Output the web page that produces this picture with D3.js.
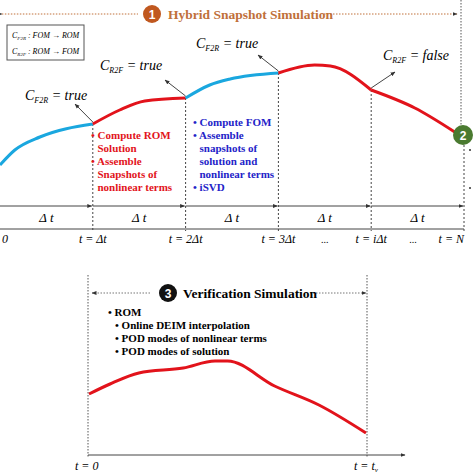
<!DOCTYPE html><html><head><meta charset="utf-8"><script src="https://cdn.jsdelivr.net/npm/d3@7"></script>
<style>body{margin:0;background:#fff}svg text{font-family:"Liberation Serif","DejaVu Serif","Times New Roman",serif}</style></head><body><svg id="c" width="474" height="474" font-family="Liberation Serif, DejaVu Serif, serif"></svg>
<script>
// hybrid simulation: time in Δt units, state value arbitrary
const hybridT=[0,0.16,0.43,1,1.29,1.56,2,2.26,2.48,3.0,3.39,3.56,4.0,4.47,4.9];
const hybridV=[65,80,93,106,120,129,132,145,151,157,165,164,140,122,98];
const segModel=["FOM","ROM","FOM","ROM","ROM"];
const tickLabels=["0","t = Δt","t = 2Δt","t = 3Δt","t = iΔt","t = N"];
const verT=[0,0.076,0.18,0.34,0.455,0.5,0.67,0.83,1];
const verV=[61,71,82,87,94,94,69,50,22];
const col={FOM:"#1aa7df",ROM:"#e2131b"};
const svg=d3.select("#c");
const x=d3.scaleLinear().domain([0,5]).range([0,464]);
const y=d3.scaleLinear().domain([0,100]).range([230,130]);
const defs=svg.append("defs");
defs.append("marker").attr("id","ah").attr("viewBox","0 0 10 10").attr("refX",9).attr("refY",5).attr("markerWidth",5).attr("markerHeight",5).attr("orient","auto").append("path").attr("d","M0,1L10,5L0,9Z").attr("fill","#333");
const line=d3.line().x(d=>x(d[0])).y(d=>y(d[1])).curve(d3.curveMonotoneX);
const pts=hybridT.map((t,i)=>[t,hybridV[i]]);
const at=i=>pts.find(p=>Math.abs(p[0]-i)<0.01);
// title
svg.append("line").attr("x1",x(0.02)).attr("x2",138).attr("y1",14).attr("y2",14).attr("stroke","#c0703a").attr("stroke-dasharray","1.5,1.5").attr("marker-start","url(#ah)");
svg.append("line").attr("x1",324).attr("x2",457).attr("y1",14).attr("y2",14).attr("stroke","#c0703a").attr("stroke-dasharray","1.5,1.5").attr("marker-end","url(#ah)");
svg.append("circle").attr("cx",152).attr("cy",14).attr("r",9).attr("fill","#c0581f");
svg.append("text").attr("x",152).attr("y",18.5).attr("text-anchor","middle").attr("fill","#fff").attr("font-size",12).attr("font-weight","bold").style("font-family","Liberation Sans").text("1");
svg.append("text").attr("x",168).attr("y",19).attr("fill","#c0703a").attr("font-size",13.5).attr("font-weight","bold").text("Hybrid Snapshot Simulation");
svg.append("line").attr("x1",461).attr("x2",461).attr("y1",0).attr("y2",128).attr("stroke","#555").attr("stroke-dasharray","1.5,1.5");
// legend
svg.append("rect").attr("x",7).attr("y",25).attr("width",77).attr("height",35).attr("fill","#fff").attr("stroke","#555");
[["F2R","FOM → ROM",38],["R2F","ROM → FOM",54]].forEach(d=>{const t=svg.append("text").attr("x",12).attr("y",d[2]).attr("font-size",8).attr("font-style","italic");t.append("tspan").text("C");t.append("tspan").attr("font-size",5).attr("dy",2).text(d[0]);t.append("tspan").attr("dy",-2).text(" : "+d[1]);});
// vertical dashed boundaries
d3.range(1,6).forEach(i=>{svg.append("line").attr("x1",x(i)).attr("x2",x(i)).attr("y1",i<5?y(at(i)[1]):145).attr("y2",231).attr("stroke","#444").attr("stroke-dasharray","2,2");});
// curve segments
d3.range(5).forEach(i=>{const seg=pts.filter(p=>p[0]>=i-0.001&&p[0]<=i+1.001);
svg.append("path").attr("d",line(seg)).attr("fill","none").attr("stroke",col[segModel[i]]).attr("stroke-width",3);});
// axes
d3.range(5).forEach(i=>svg.append("line").attr("x1",x(i)).attr("x2",x(i+1)-1).attr("y1",206).attr("y2",206).attr("stroke","#444").attr("marker-end","url(#ah)"));
svg.append("line").attr("x1",0).attr("x2",x(5)).attr("y1",229).attr("y2",229).attr("stroke","#444");
d3.range(5).forEach(i=>svg.append("text").attr("x",x(i+0.5)).attr("y",222).attr("text-anchor","middle").attr("font-size",13).attr("font-style","italic").text("Δ t"));
tickLabels.forEach((s,i)=>svg.append("text").attr("x",i==0?x(0)+2:x(i)).attr("y",243).attr("text-anchor",i==0?"start":(i==5?"end":"middle")).attr("font-size",12).attr("font-style","italic").text(s));
svg.append("text").attr("x",x(3.5)).attr("y",243).attr("text-anchor","middle").attr("font-size",10).text("...");
svg.append("text").attr("x",x(4.45)).attr("y",243).attr("text-anchor","middle").attr("font-size",10).text("...");
// annotations
const ann=[[1,"F2R","true",25,100,75,104],[2,"R2F","true",100,70,165,80],[3,"F2R","true",196,48,258,55],[4,"R2F","false",383,60,395,72]];
ann.forEach(a=>{const px=x(a[0]),py=y(at(a[0])[1]);
svg.append("line").attr("x1",px).attr("y1",py-2).attr("x2",a[5]).attr("y2",a[6]).attr("stroke","#444").attr("marker-end","url(#ah)");
const t=svg.append("text").attr("x",a[3]).attr("y",a[4]).attr("font-size",14).attr("font-style","italic");t.append("tspan").text("C");t.append("tspan").attr("font-size",8).attr("dy",3).text(a[1]);t.append("tspan").attr("dy",-3).text(" = "+a[2]);});
// green circle
svg.append("circle").attr("cx",463).attr("cy",135).attr("r",10).attr("fill","#4a7a30");
svg.append("text").attr("x",463).attr("y",139.5).attr("text-anchor","middle").attr("fill","#fff").attr("font-size",12).attr("font-weight","bold").style("font-family","Liberation Sans").text("2");
[150,188].forEach(v=>svg.append("circle").attr("cx",470).attr("cy",v).attr("r",1).attr("fill","#333"));
// text blocks
const red=["• Compute ROM","  Solution","• Assemble","  Snapshots of","  nonlinear terms"];
red.forEach((s,i)=>svg.append("text").attr("x",s.startsWith("•")?91:97.5).attr("y",139+i*13).attr("font-size",11).attr("font-weight","bold").attr("fill","#e2131b").text(s.trim()));
const blue=["• Compute FOM","• Assemble","  snapshots of","  solution and","  nonlinear terms","• iSVD"];
blue.forEach((s,i)=>svg.append("text").attr("x",s.startsWith("•")?193:199.5).attr("y",126+i*13).attr("font-size",11).attr("font-weight","bold").attr("fill","#2323c8").text(s.trim()));
// verification
const xv=d3.scaleLinear().domain([0,1]).range([89,366]);
const yv=d3.scaleLinear().domain([0,100]).range([455,355]);
[88,367].forEach(v=>svg.append("line").attr("x1",v).attr("x2",v).attr("y1",275).attr("y2",458).attr("stroke","#555").attr("stroke-dasharray","1.5,1.5"));
svg.append("line").attr("x1",150).attr("x2",92).attr("y1",293).attr("y2",293).attr("stroke","#777").attr("stroke-dasharray","1.5,1.5").attr("marker-end","url(#ah)");
svg.append("line").attr("x1",310).attr("x2",366).attr("y1",293).attr("y2",293).attr("stroke","#777").attr("stroke-dasharray","1.5,1.5").attr("marker-end","url(#ah)");
svg.append("circle").attr("cx",168).attr("cy",293).attr("r",9).attr("fill","#111");
svg.append("text").attr("x",168).attr("y",297.5).attr("text-anchor","middle").attr("fill","#fff").attr("font-size",12).attr("font-weight","bold").style("font-family","Liberation Sans").text("3");
svg.append("text").attr("x",183).attr("y",298).attr("font-size",13.5).attr("font-weight","bold").text("Verification Simulation");
[["• ROM",108,316],["• Online DEIM interpolation",115,329],["• POD modes of nonlinear terms",115,342],["• POD modes of solution",115,355]].forEach(d=>svg.append("text").attr("x",d[1]).attr("y",d[2]).attr("font-size",11).attr("font-weight","bold").text(d[0]));
svg.append("path").attr("d",d3.line().x(d=>xv(d[0])).y(d=>yv(d[1])).curve(d3.curveMonotoneX)(verT.map((t,i)=>[t,verV[i]]))).attr("fill","none").attr("stroke","#e2131b").attr("stroke-width",3);
svg.append("line").attr("x1",88).attr("x2",405).attr("y1",455).attr("y2",455).attr("stroke","#444").attr("marker-end","url(#ah)");
svg.append("text").attr("x",75).attr("y",470).attr("font-size",12).attr("font-style","italic").text("t = 0");
const tv=svg.append("text").attr("x",354).attr("y",470).attr("font-size",12).attr("font-style","italic");tv.append("tspan").text("t = t");tv.append("tspan").attr("font-size",7).attr("dy",2).text("v");
</script></body></html>
